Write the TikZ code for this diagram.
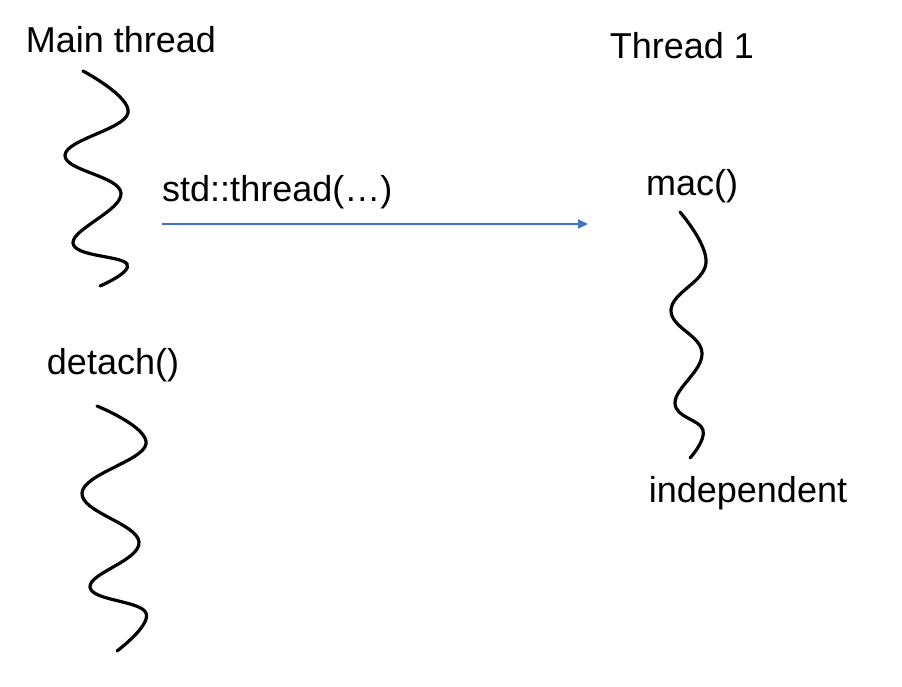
\documentclass[tikz,border=0pt]{standalone}
\usepackage{fontspec}
\setmainfont{Liberation Sans}
\usetikzlibrary{arrows.meta}
\definecolor{arrowblue}{RGB}{68,114,196}
\begin{document}
\begin{tikzpicture}[x=1pt,y=-1pt,
  lbl/.style={font=\fontsize{36}{40}\selectfont, inner sep=0pt},
  wave/.style={line width=3.2pt, line cap=round}]
\useasboundingbox (0,0) rectangle (902,686);
\node[lbl] (main) at (121,40) {Main thread};
\node[lbl] (t1) at (682,46) {Thread 1};
\node[lbl, anchor=west] (std) at (162,192) {std::thread(…)};
\node[lbl] (mac) at (692,186) {mac()};
\node[lbl] (det) at (113,365) {detach()};
\node[lbl] (ind) at (748,493) {independent};
\coordinate (a1) at (162,224);
\coordinate (a2) at (588,224);
\draw[arrowblue, line width=2.2pt, -{Triangle[length=10pt,width=9pt]}] (a1) -- (a2);
\draw[wave] plot[smooth, tension=0.7] coordinates {(83,71) (128,113) (65,155) (121,193) (73,243) (127,264) (100,286)};
\draw[wave] plot[smooth, tension=0.7] coordinates {(97,406) (146,444) (82,493) (139,542) (90,587) (146,613) (117,651)};
\draw[wave] plot[smooth, tension=0.7] coordinates {(680,212) (706,263) (671,310) (702,353) (675,403) (703,430) (690,458)};
\end{tikzpicture}
\end{document}
